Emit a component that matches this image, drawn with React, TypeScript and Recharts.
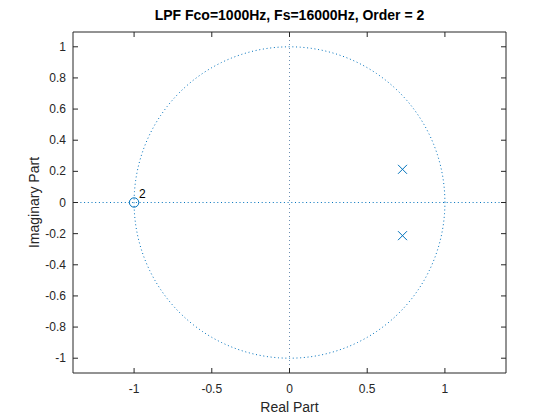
import React from 'react';
import {
  ScatterChart,
  Scatter,
  XAxis,
  YAxis,
  ReferenceLine,
} from 'recharts';

// pole/zero locations
const ZEROS_RE = [-1];
const ZEROS_IM = [0];
const ZERO_MULT = [2];
const POLES_RE = [0.7271, 0.7271];
const POLES_IM = [0.213, -0.213];

const X_TICKS = [-1, -0.5, 0, 0.5, 1];
const Y_TICKS = [-1, -0.8, -0.6, -0.4, -0.2, 0, 0.2, 0.4, 0.6, 0.8, 1];
const X_DOMAIN = [-1.393, 1.393];
const Y_DOMAIN = [-1.095, 1.095];

const TITLE = 'LPF Fco=1000Hz, Fs=16000Hz, Order = 2';

// unit circle reference (geometric, not data)
const CIRCLE_STEPS = 180;
const unitCircle = Array.from({ length: CIRCLE_STEPS + 1 }, (_, i) => {
  const a = (2 * Math.PI * i) / CIRCLE_STEPS;
  return { x: Math.cos(a), y: Math.sin(a) };
});

const zeros = ZEROS_RE.map((re, i) => ({ x: re, y: ZEROS_IM[i], m: ZERO_MULT[i] }));
const poles = POLES_RE.map((re, i) => ({ x: re, y: POLES_IM[i] }));

const AX = '#262626';
const BLUE = '#0072BD';
const FONT = 'Liberation Sans, Arial, sans-serif';

const fmt = (v: number) => (v === 0 ? '0' : String(v));

const BottomTick = (props: any) => {
  const { x, y, payload } = props;
  return (
    <g>
      <line x1={x} y1={y} x2={x} y2={y - 5} stroke={AX} />
      <text x={x} y={y + 20} textAnchor="middle" fill={AX} fontSize={12} fontFamily={FONT}>
        {fmt(payload.value)}
      </text>
    </g>
  );
};

const TopTick = (props: any) => {
  const { x, y } = props;
  return <line x1={x} y1={y} x2={x} y2={y + 5} stroke={AX} />;
};

const LeftTick = (props: any) => {
  const { x, y, payload } = props;
  return (
    <g>
      <line x1={x} y1={y} x2={x + 5} y2={y} stroke={AX} />
      <text x={x - 7} y={y + 4} textAnchor="end" fill={AX} fontSize={12} fontFamily={FONT}>
        {fmt(payload.value)}
      </text>
    </g>
  );
};

const RightTick = (props: any) => {
  const { x, y } = props;
  return <line x1={x} y1={y} x2={x - 5} y2={y} stroke={AX} />;
};

const ZeroShape = (props: any) => {
  const { cx, cy, payload } = props;
  return (
    <g>
      <circle cx={cx} cy={cy} r={4.7} fill="none" stroke={BLUE} strokeWidth={1} />
      {payload.m > 1 && (
        <text x={cx + 5} y={cy - 5} fill="#000" fontSize={12} fontFamily={FONT}>
          {payload.m}
        </text>
      )}
    </g>
  );
};

const PoleShape = (props: any) => {
  const { cx, cy } = props;
  const s = 4.5;
  return (
    <g>
      <line x1={cx - s} y1={cy - s} x2={cx + s} y2={cy + s} stroke={BLUE} strokeWidth={1} />
      <line x1={cx - s} y1={cy + s} x2={cx + s} y2={cy - s} stroke={BLUE} strokeWidth={1} />
    </g>
  );
};

const NoDot = () => null;

export default function App() {
  return (
    <div style={{ position: 'absolute', left: 0, top: 0, width: 560, height: 420, background: '#fff' }}>
      <ScatterChart width={560} height={420} margin={{ top: 31, right: 53, bottom: 7, left: 20 }}>
        <XAxis
          xAxisId="b"
          type="number"
          dataKey="x"
          domain={X_DOMAIN}
          ticks={X_TICKS}
          allowDataOverflow
          orientation="bottom"
          height={40}
          tickSize={0}
          tickMargin={0}
          tickLine={false}
          axisLine={{ stroke: AX }}
          tick={<BottomTick />}
          label={{
            content: ({ viewBox }: any) => (
              <text
                x={viewBox.x + viewBox.width / 2}
                y={viewBox.y + 39}
                textAnchor="middle"
                fill={AX}
                fontSize={14}
                fontFamily={FONT}
              >
                Real Part
              </text>
            ),
          }}
        />
        <XAxis
          xAxisId="t"
          type="number"
          dataKey="x"
          domain={X_DOMAIN}
          ticks={X_TICKS}
          allowDataOverflow
          orientation="top"
          height={1}
          tickSize={0}
          tickMargin={0}
          tickLine={false}
          axisLine={{ stroke: AX }}
          tick={<TopTick />}
          label={{
            content: ({ viewBox }: any) => (
              <text
                x={viewBox.x + viewBox.width / 2}
                y={viewBox.y - 11}
                textAnchor="middle"
                fill="#000"
                fontSize={14}
                fontWeight="bold"
                fontFamily={FONT}
              >
                {TITLE}
              </text>
            ),
          }}
        />
        <YAxis
          yAxisId="l"
          type="number"
          dataKey="y"
          domain={Y_DOMAIN}
          ticks={Y_TICKS}
          allowDataOverflow
          orientation="left"
          width={53}
          tickSize={0}
          tickMargin={0}
          tickLine={false}
          axisLine={{ stroke: AX }}
          tick={<LeftTick />}
          label={{
            content: ({ viewBox }: any) => {
              const cx = viewBox.x + 19;
              const cy = viewBox.y + viewBox.height / 2;
              return (
                <text
                  x={cx}
                  y={cy}
                  transform={`rotate(-90 ${cx} ${cy})`}
                  textAnchor="middle"
                  fill={AX}
                  fontSize={14}
                  fontFamily={FONT}
                >
                  Imaginary Part
                </text>
              );
            },
          }}
        />
        <YAxis
          yAxisId="r"
          type="number"
          dataKey="y"
          domain={Y_DOMAIN}
          ticks={Y_TICKS}
          allowDataOverflow
          orientation="right"
          width={1}
          tickSize={0}
          tickMargin={0}
          tickLine={false}
          axisLine={{ stroke: AX }}
          tick={<RightTick />}
        />
        <ReferenceLine xAxisId="b" yAxisId="l" y={0} stroke={BLUE} strokeDasharray="1 2.7" />
        <ReferenceLine xAxisId="b" yAxisId="l" x={0} stroke="#6d8fb3" strokeDasharray="1 3" />
        <Scatter
          xAxisId="b"
          yAxisId="l"
          data={unitCircle}
          line={{ stroke: BLUE, strokeDasharray: '1 2.7', strokeWidth: 1 }}
          lineType="joint"
          shape={<NoDot />}
          isAnimationActive={false}
        />
        <Scatter xAxisId="b" yAxisId="l" data={zeros} shape={<ZeroShape />} isAnimationActive={false} />
        <Scatter xAxisId="b" yAxisId="l" data={poles} shape={<PoleShape />} isAnimationActive={false} />
      </ScatterChart>
    </div>
  );
}
